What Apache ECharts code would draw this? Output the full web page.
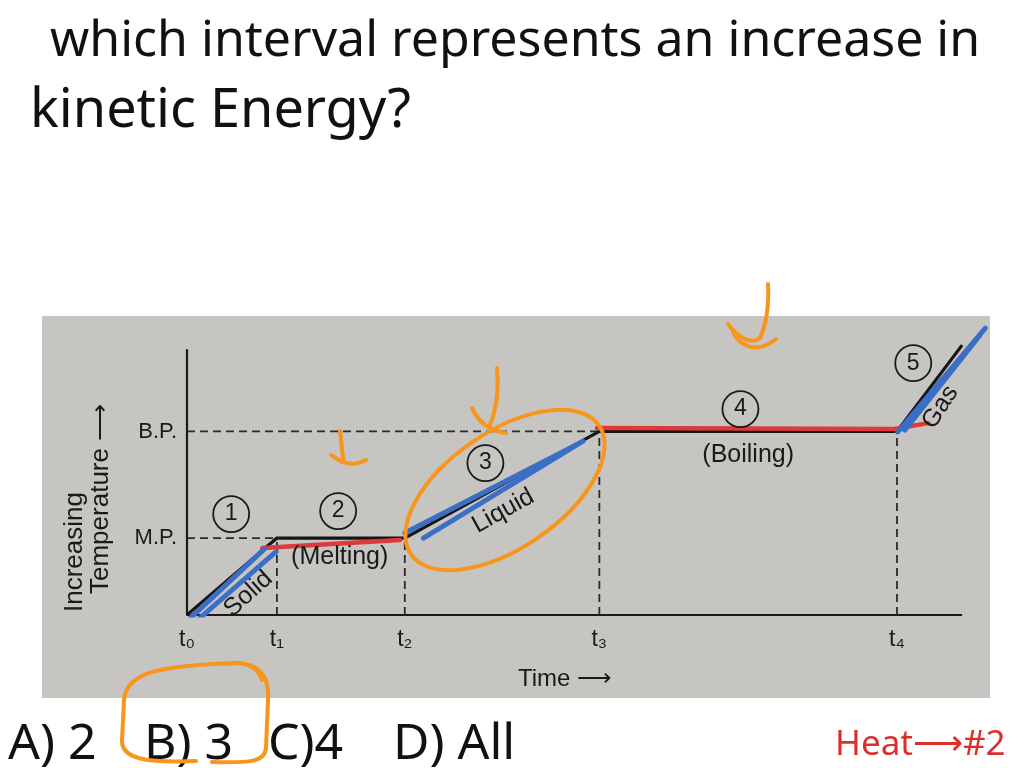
<!DOCTYPE html>
<html>
<head>
<meta charset="utf-8">
<script src="https://cdn.jsdelivr.net/npm/echarts@6/dist/echarts.min.js"></script>
<style>html,body{margin:0;padding:0;background:#fff;}#c{width:1024px;height:768px;}</style>
</head>
<body>
<div id="c"></div>
<script>
// ---- data ----
var timeTicks = [0, 11.6, 28.1, 53.2, 91.6];
var timeLabels = ['t\u2080', 't\u2081', 't\u2082', 't\u2083', 't\u2084'];
var tempTicks = [28.5, 68];
var tempLabels = ['M.P.', 'B.P.'];
var curveX = [0, 11.6, 28.1, 53.2, 91.6, 100];
var curveY = [0, 28.5, 28.5, 68, 68, 100];
var axisEndX = 100;
var axisEndY = 98.5;
var intervalNums = ['1', '2', '3', '4', '5'];
var intervalX = [5.7, 19.5, 38.5, 71.4, 93.7];
var intervalY = [37.4, 38.5, 56.3, 76.3, 93.3];
var phaseNames = ['Solid', '(Melting)', 'Liquid', '(Boiling)', 'Gas'];
var phaseX = [7.9, 19.7, 40.8, 72.4, 97.2];
var phaseY = [7.8, 21.3, 38.5, 59.3, 77.0];
var phaseRot = [42, 0, 29, 0, 57];
// hand-drawn overlay strokes (x,y pairs, null breaks strokes)
var blueStrokes = [[0.5,-1.0],[10.0,24.5],null,[1.5,-1.5],[11.5,23.5],null,
                   [28.1,30.4],[50.7,63.7],null,[30.5,28.5],[51.1,64.4],null,
                   [91.7,67.8],[103,106.3],null,[92.6,68.5],[102.3,103.7]];
var redStrokes = [[9.7,24.8],[27.5,27.8],null,[52.9,69.3],[91.3,68.9],[95.6,71.1]];
var answers = ['A) 2', 'B) 3', 'C)4', 'D) All'];

// ---- build ----
var curve = curveX.map(function (x, i) { return [x, curveY[i]]; });
var axes = [[0, axisEndY], [0, 0], [axisEndX, 0]];
var dashes = [];
dashes.push([0, tempTicks[0]], [timeTicks[1], tempTicks[0]], null);
dashes.push([0, tempTicks[1]], [timeTicks[3], tempTicks[1]], null);
[1, 2, 3, 4].forEach(function (k) {
  var lvl = k <= 2 ? tempTicks[0] : tempTicks[1];
  dashes.push([timeTicks[k], 0], [timeTicks[k], lvl], null);
});
var nums = intervalNums.map(function (n, i) { return { value: [intervalX[i], intervalY[i]], name: n }; });
var phases = phaseNames.map(function (n, i) {
  return { value: [phaseX[i], phaseY[i]], name: n, label: { rotate: phaseRot[i] } };
});
var labelMap = {};
timeTicks.forEach(function (t, i) { labelMap[t] = timeLabels[i]; });
var tempMap = {};
tempTicks.forEach(function (t, i) { tempMap[t] = tempLabels[i]; });

var orange = '#f7951d';
var hand = '"Noto Sans", sans-serif';
var ink = '#1a1a1a';
var oStyle = { fill: 'none', stroke: orange, lineWidth: 4, lineCap: 'round' };
function bz(x1, y1, c1x, c1y, c2x, c2y, x2, y2) {
  return { type: 'bezierCurve', z: 100,
    shape: { x1: x1, y1: y1, cpx1: c1x, cpy1: c1y, cpx2: c2x, cpy2: c2y, x2: x2, y2: y2 },
    style: oStyle };
}
function ln(x1, y1, x2, y2) {
  return { type: 'line', z: 100, shape: { x1: x1, y1: y1, x2: x2, y2: y2 }, style: oStyle };
}
function txt(x, y, s, font, color) {
  return { type: 'text', z: 5, x: x, y: y, style: { text: s, fill: color || '#111', font: font, verticalAlign: 'middle' } };
}

var chart = echarts.init(document.getElementById('c'));
chart.setOption({
  animation: false,
  backgroundColor: '#ffffff',
  grid: { left: 187, right: 34, top: 320, bottom: 153, containLabel: false },
  xAxis: {
    type: 'value', min: 0, max: 103.6,
    axisLine: { show: false },
    axisTick: { show: false },
    splitLine: { show: false },
    axisLabel: {
      customValues: timeTicks, margin: 13, fontSize: 23, color: ink,
      fontFamily: 'Liberation Sans',
      formatter: function (v) { return labelMap[v] || ''; }
    }
  },
  yAxis: {
    type: 'value', min: 0, max: 109.3,
    axisLine: { show: false },
    axisTick: { show: false },
    splitLine: { show: false },
    axisLabel: {
      customValues: tempTicks, margin: 10, fontSize: 22, color: ink,
      fontFamily: 'Liberation Sans',
      formatter: function (v) { return tempMap[v] || ''; }
    }
  },
  graphic: [
    { type: 'rect', z: -10, shape: { x: 42, y: 316, width: 948, height: 382 },
      style: { fill: '#c7c5c1' } },
    { type: 'text', z: 5, x: 75, y: 612, rotation: Math.PI / 2,
      style: { text: 'Increasing', fill: ink, align: 'left', verticalAlign: 'middle',
               font: '26px "Liberation Sans"' } },
    { type: 'text', z: 5, x: 101, y: 594, rotation: Math.PI / 2,
      style: { text: 'Temperature \u27F6', fill: ink, align: 'left', verticalAlign: 'middle',
               font: '26px "Liberation Sans"' } },
    { type: 'text', z: 5, x: 518, y: 679,
      style: { text: 'Time \u27F6', fill: ink, align: 'left', verticalAlign: 'middle',
               font: '24px "Liberation Sans"' } },
    txt(50, 42, 'which interval represents an increase in', '50px ' + hand),
    txt(30, 112, 'kinetic Energy?', '54px ' + hand),
    txt(8, 745, answers[0], '50px ' + hand),
    txt(144, 745, answers[1], '50px ' + hand),
    txt(268, 745, answers[2], '50px ' + hand),
    txt(393, 745, answers[3], '50px ' + hand),
    txt(835, 745, 'Heat\u27F6#2', '35px ' + hand, '#d9302c'),
    // orange hand annotations
    { type: 'ellipse', z: 100, x: 505, y: 490, rotation: 0.6,
      shape: { cx: 0, cy: 0, rx: 114, ry: 58 },
      style: { fill: 'none', stroke: orange, lineWidth: 4 } },
    bz(497, 368, 499, 390, 496, 410, 490, 425),
    bz(472, 408, 478, 420, 486, 430, 506, 433),
    bz(340, 431, 342, 445, 342, 455, 344, 462),
    bz(344, 462, 352, 466, 360, 463, 366, 460),
    ln(331, 455, 342, 462),
    bz(768, 284, 769, 305, 766, 325, 760, 338),
    bz(760, 338, 752, 345, 738, 338, 728, 324),
    bz(733, 332, 742, 350, 760, 352, 776, 339),
    bz(228, 664, 258, 660, 270, 676, 268, 700),
    ln(268, 700, 266, 748),
    bz(266, 748, 265, 762, 250, 763, 212, 762),
    bz(196, 761, 150, 763, 121, 760, 122, 740),
    ln(122, 740, 124, 700),
    bz(124, 700, 126, 672, 160, 666, 232, 663),
    bz(232, 663, 248, 662, 258, 668, 262, 680)
  ],
  series: [
    { type: 'line', data: axes, symbol: 'none', silent: true,
      lineStyle: { color: ink, width: 2.2 }, z: 2 },
    { type: 'line', data: dashes, symbol: 'none', connectNulls: false, silent: true,
      lineStyle: { color: '#2a2a2a', width: 1.8, type: [8, 5] }, z: 2 },
    { type: 'line', data: curve, symbol: 'none', lineStyle: { color: '#151515', width: 3.2 }, z: 3 },
    { type: 'line', data: redStrokes, symbol: 'none', connectNulls: false,
      lineStyle: { color: '#dc3a3c', width: 4.5, cap: 'round' }, z: 4 },
    { type: 'line', data: blueStrokes, symbol: 'none', connectNulls: false,
      lineStyle: { color: '#3b6fc6', width: 5, cap: 'round' }, z: 5 },
    { type: 'scatter', data: nums, symbol: 'circle', symbolSize: 36,
      itemStyle: { color: 'rgba(0,0,0,0)', borderColor: ink, borderWidth: 1.8, opacity: 1 },
      label: { show: true, position: 'inside', formatter: '{b}', fontSize: 23, color: ink, opacity: 1,
               textBorderWidth: 0, fontFamily: 'Liberation Sans' }, z: 6 },
    { type: 'scatter', data: phases, symbolSize: 0,
      itemStyle: { opacity: 1 },
      label: { show: true, position: 'inside', formatter: '{b}', fontSize: 25, color: ink, opacity: 1,
               textBorderWidth: 0, fontFamily: 'Liberation Sans' }, z: 4 }
  ]
});
</script>
</body>
</html>
